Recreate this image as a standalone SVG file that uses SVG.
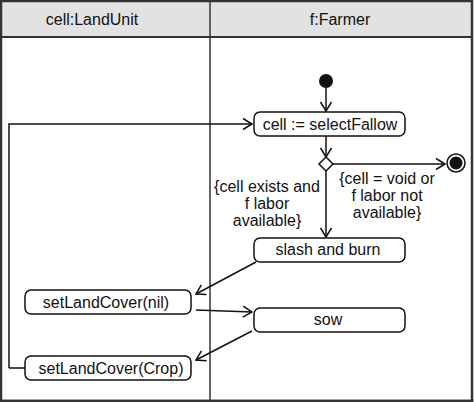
<svg xmlns="http://www.w3.org/2000/svg" width="474" height="402" viewBox="0 0 474 402">
<defs>
<marker id="arr" markerUnits="userSpaceOnUse" markerWidth="14" markerHeight="14" refX="10" refY="6" orient="auto" viewBox="0 0 14 12">
<path d="M1,0.5 L10,6 L1,11.5" fill="none" stroke="#111" stroke-width="1.5"/>
</marker>
<style>
text{font-family:"Liberation Sans",Arial,sans-serif;font-size:16px;fill:#111;text-anchor:middle}
.act{fill:#fff;stroke:#111;stroke-width:1.5}
.ln{fill:none;stroke:#111;stroke-width:1.5;marker-end:url(#arr)}
</style>
</defs>
<rect x="0" y="0" width="474" height="402" fill="#fff"/>
<g id="swimlanes">
<rect x="1" y="1" width="471" height="36" fill="#e2e2e2"/>
<rect x="0" y="399" width="474" height="3" fill="#c8c8c8"/>
<rect x="1" y="1" width="471" height="400" fill="none" stroke="#333" stroke-width="2.5"/>
<line x1="1" y1="37" x2="472" y2="37" stroke="#333" stroke-width="2"/>
<line x1="210" y1="1" x2="210" y2="400" stroke="#333" stroke-width="1.5"/>
<text x="92" y="25">cell:LandUnit</text>
<text x="340" y="25">f:Farmer</text>
</g>
<g id="connectors">
<path class="ln" d="M326,88 V111"/>
<path class="ln" d="M9,368 V124 H252"/>
<path d="M9,368 H25" fill="none" stroke="#111" stroke-width="1.5"/>
<path class="ln" d="M326,136 V157"/>
<path class="ln" d="M332,164 H445"/>
<path class="ln" d="M326,171 V237"/>
<path class="ln" d="M256,262 L196,294"/>
<path class="ln" d="M196,310 L252,312"/>
<path class="ln" d="M252,331 L196,360"/>
<text x="267" y="192">{cell exists and</text>
<text x="267" y="209">f labor</text>
<text x="267" y="226">available}</text>
<text x="387" y="184">{cell = void or</text>
<text x="387" y="201">f labor not</text>
<text x="387" y="218">available}</text>
</g>
<g id="start"><circle cx="326" cy="81" r="7" fill="#111"/></g>
<g id="selectFallow"><rect class="act" x="254" y="112" width="151" height="24" rx="6"/><text x="330" y="130">cell := selectFallow</text></g>
<g id="decision"><path d="M326,157 L333,164 L326,171 L319,164 Z" fill="#fff" stroke="#111" stroke-width="1.5"/></g>
<g id="end"><circle cx="456" cy="163" r="9" fill="#fff" stroke="#111" stroke-width="1.5"/><circle cx="456" cy="163" r="6.5" fill="#111"/></g>
<g id="slashAndBurn"><rect class="act" x="254" y="238" width="151" height="24" rx="6"/><text x="328" y="255">slash and burn</text></g>
<g id="setLandCoverNil"><rect class="act" x="25" y="290" width="166" height="24" rx="6"/><text x="106" y="308">setLandCover(nil)</text></g>
<g id="sow"><rect class="act" x="254" y="308" width="151" height="24" rx="6"/><text x="328" y="325">sow</text></g>
<g id="setLandCoverCrop"><rect class="act" x="25" y="356" width="166" height="24" rx="6"/><text x="111" y="374">setLandCover(Crop)</text></g>
</svg>
